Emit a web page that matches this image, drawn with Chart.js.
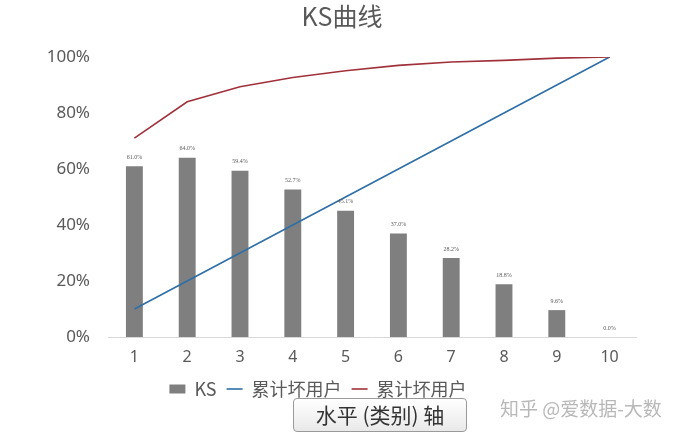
<!DOCTYPE html>
<html>
<head>
<meta charset="utf-8">
<script src="https://cdn.jsdelivr.net/npm/chart.js@4"></script>
<style>
  html, body { margin:0; padding:0; background:#fff; }
  #wrap { position:relative; width:696px; height:436px; }
  #c { position:absolute; left:0; top:0; }
  #axisTip { position:absolute; left:293px; top:398px; width:174px; height:34px; box-sizing:border-box;
    border:1px solid #9a9a9a; border-radius:4px; background:linear-gradient(#ffffff,#e9e9e9);
    font-family:"Noto Sans CJK SC","Noto Sans",sans-serif; font-size:21px; color:#333; text-align:center; line-height:31px; }
  #wm { position:absolute; left:500px; top:394px; font-family:"Noto Sans CJK SC",sans-serif; font-size:19px; color:#b8b8b8; white-space:nowrap; }
</style>
</head>
<body>
<div id="wrap">
  <canvas id="c" width="696" height="436"></canvas>
  <div id="axisTip">水平 (类别) 轴</div>
  <div id="wm">知乎 @爱数据-大数</div>
</div>
<script>
const categories = ['1','2','3','4','5','6','7','8','9','10'];
const ksValues = [61.0, 64.0, 59.4, 52.7, 45.1, 37.0, 28.2, 18.8, 9.6, 0.0];
const cumBlue = [10, 20, 30, 40, 50, 60, 70, 80, 90, 100];
const cumRed = [71.0, 84.0, 89.4, 92.7, 95.1, 97.0, 98.2, 98.8, 99.6, 100];
const seriesNames = ['KS', '累计坏用户', '累计坏用户'];
const yTicks = [0, 20, 40, 60, 80, 100];

const barLabels = {
  id: 'barLabels',
  afterDatasetsDraw(chart) {
    const ctx = chart.ctx;
    const meta = chart.getDatasetMeta(0);
    ctx.save();
    ctx.font = '6px "Liberation Serif", serif';
    ctx.fillStyle = '#595959';
    ctx.textAlign = 'center';
    ctx.textBaseline = 'bottom';
    meta.data.forEach((bar, i) => {
      ctx.fillText(ksValues[i].toFixed(1) + '%', bar.x, bar.y - 6);
    });
    ctx.restore();
  }
};

const shiftTitle = {
  id: 'shiftTitle',
  afterLayout(chart) {
    const t = chart.titleBlock;
    if (t) { t.left += 24; t.right += 24; }
  }
};

new Chart(document.getElementById('c'), {
  data: {
    labels: categories,
    datasets: [
      { type:'bar', label: seriesNames[0], data: ksValues, backgroundColor:'#7f7f7f',
        categoryPercentage:1, barPercentage:0.32, pointStyle:'rect', order:3 },
      { type:'line', label: seriesNames[1], data: cumBlue, borderColor:'#2e6fa7', backgroundColor:'#2e6fa7',
        borderWidth:1.6, pointRadius:0, pointStyle:'line', tension:0, order:2 },
      { type:'line', label: seriesNames[2], data: cumRed, borderColor:'#a0303a', backgroundColor:'#a0303a',
        borderWidth:1.6, pointRadius:0, pointStyle:'line', tension:0, order:1 }
    ]
  },
  options: {
    responsive:false,
    animation:false,
    layout:{ padding:{ left:0, right:60, top:0, bottom:28 } },
    plugins:{
      tooltip:{ enabled:false },
      title:{ display:true, text:'KS曲线', color:'#595959',
        font:{ family:'"Noto Sans CJK SC", sans-serif', size:25, weight:'normal' },
        padding:{ top:1, bottom:26 } },
      legend:{ display:true, position:'bottom',
        labels:{ usePointStyle:true, pointStyleWidth:16, color:'#595959', boxWidth:16, boxHeight:9, padding:10,
          sort:(a, b) => a.datasetIndex - b.datasetIndex,
          font:{ family:'"Noto Sans CJK SC", sans-serif', size:18 } } }
    },
    scales:{
      x:{
        grid:{ display:false, drawTicks:false },
        border:{ display:true, color:'#d9d9d9', width:1 },
        ticks:{ color:'#595959', padding:11, font:{ family:'"Noto Sans", sans-serif', size:16 } },
        afterFit(s){ s.height = 33; }
      },
      y:{
        min:0, max:100,
        afterBuildTicks(s){ s.ticks = yTicks.map(v => ({ value:v })); },
        grid:{ display:false, drawTicks:false },
        border:{ display:false },
        ticks:{ color:'#595959', padding:18, callback:v => v + '%',
          font:{ family:'"Noto Sans", sans-serif', size:17 } },
        afterFit(s){ s.width = 108; }
      }
    }
  },
  plugins:[barLabels, shiftTitle]
});
</script>
</body>
</html>
